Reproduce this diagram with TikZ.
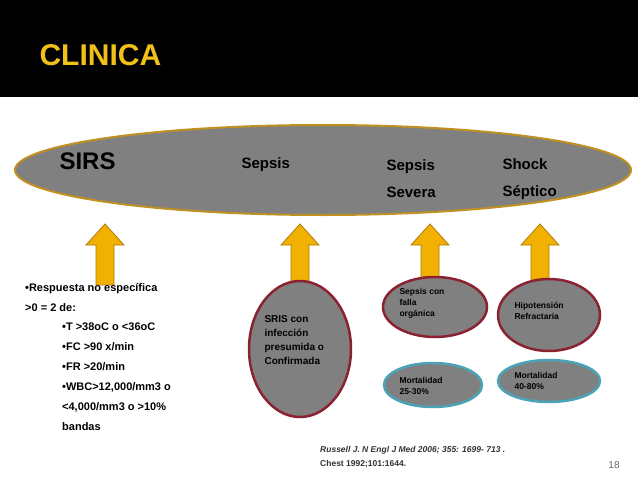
\documentclass[tikz,border=0pt]{standalone}
\usepackage{fontspec}
\setmainfont{Liberation Sans}
\begin{document}
\begin{tikzpicture}[x=1pt,y=-1pt,
  arr/.style={fill=arrowY,draw=arrowB,line width=0.8pt},
  redell/.style={draw=redB,fill=midgrey,line width=2.5pt},
  tealell/.style={draw=tealB,fill=midgrey,line width=2.5pt},
  lbl/.style={font=\bfseries\fontsize{8.5}{11}\selectfont,align=left,anchor=west}]
\definecolor{arrowY}{HTML}{F2B000}
\definecolor{arrowB}{HTML}{B07A10}
\definecolor{midgrey}{HTML}{808080}
\definecolor{gold}{HTML}{C09020}
\definecolor{redB}{HTML}{8B2232}
\definecolor{tealB}{HTML}{4BA3B8}
\definecolor{titleY}{HTML}{F2C018}
\useasboundingbox (0,0) rectangle (638,479);
\fill[white] (0,0) rectangle (638,479);
\fill[black] (0,0) rectangle (638,97);
\node[anchor=west,text=titleY,font=\bfseries\fontsize{30}{32}\selectfont] (title) at (36,55) {CLINICA};
% big ellipse
\draw[fill=midgrey,draw=gold,line width=2pt] (323,170) ellipse [x radius=308, y radius=45];
\node[anchor=west,font=\bfseries\fontsize{24}{26}\selectfont] (sirs) at (56,161) {SIRS};
\node[anchor=west,font=\bfseries\fontsize{15}{17}\selectfont] (sep) at (238,165) {Sepsis};
\node[anchor=west,font=\bfseries\fontsize{15}{27}\selectfont,align=left] (sev) at (383,179) {Sepsis\\Severa};
\node[anchor=west,font=\bfseries\fontsize{15}{27}\selectfont,align=left] (sho) at (499,179) {Shock\\Séptico};
% arrows
\foreach \x in {105,300,430,540}{
  \draw[arr] (\x-9,285) -- (\x-9,245) -- (\x-19,245) -- (\x,224) -- (\x+19,245) -- (\x+9,245) -- (\x+9,285) -- cycle;
}
% left text
\node[anchor=north west,font=\bfseries\fontsize{11}{20}\selectfont,align=left,inner sep=0pt] (resp) at (25,283)
 {•Respuesta no específica\\>0 = 2 de:};
\node[anchor=north west,font=\bfseries\fontsize{11}{20}\selectfont,align=left,inner sep=0pt] (items) at (62,323)
 {•T >38oC o <36oC\\•FC >90 x/min\\•FR >20/min\\•WBC>12,000/mm3 o\\<4,000/mm3 o >10\%\\bandas};
% ellipses
\draw[redell] (300,349) ellipse [x radius=51, y radius=68];
\node[lbl,font=\bfseries\fontsize{10}{14}\selectfont] (sris) at (261,340) {SRIS con\\infección\\presumida o\\Confirmada};
\draw[redell] (435,307) ellipse [x radius=52, y radius=30];
\node[lbl] (falla) at (396,303) {Sepsis con\\falla\\orgánica};
\draw[redell] (549,315) ellipse [x radius=51, y radius=36];
\node[lbl] (hipo) at (511,311) {Hipotensión\\Refractaria};
\draw[tealell] (433,385) ellipse [x radius=49, y radius=22];
\node[lbl] (m1) at (396,386) {Mortalidad\\25-30\%};
\draw[tealell] (549,381) ellipse [x radius=51, y radius=21];
\node[lbl] (m2) at (511,381) {Mortalidad\\40-80\%};
% citation
\node[anchor=north west,inner sep=0pt,font=\bfseries\fontsize{8.5}{14}\selectfont,text=black!80,align=left] (cit) at (320,446)
 {\textit{Russell J. N Engl J Med 2006; 355: 1699- 713 .}\\Chest 1992;101:1644.};
\node[text=black!60,font=\fontsize{10}{11}\selectfont] (pg) at (614,465) {18};
\end{tikzpicture}
\end{document}
